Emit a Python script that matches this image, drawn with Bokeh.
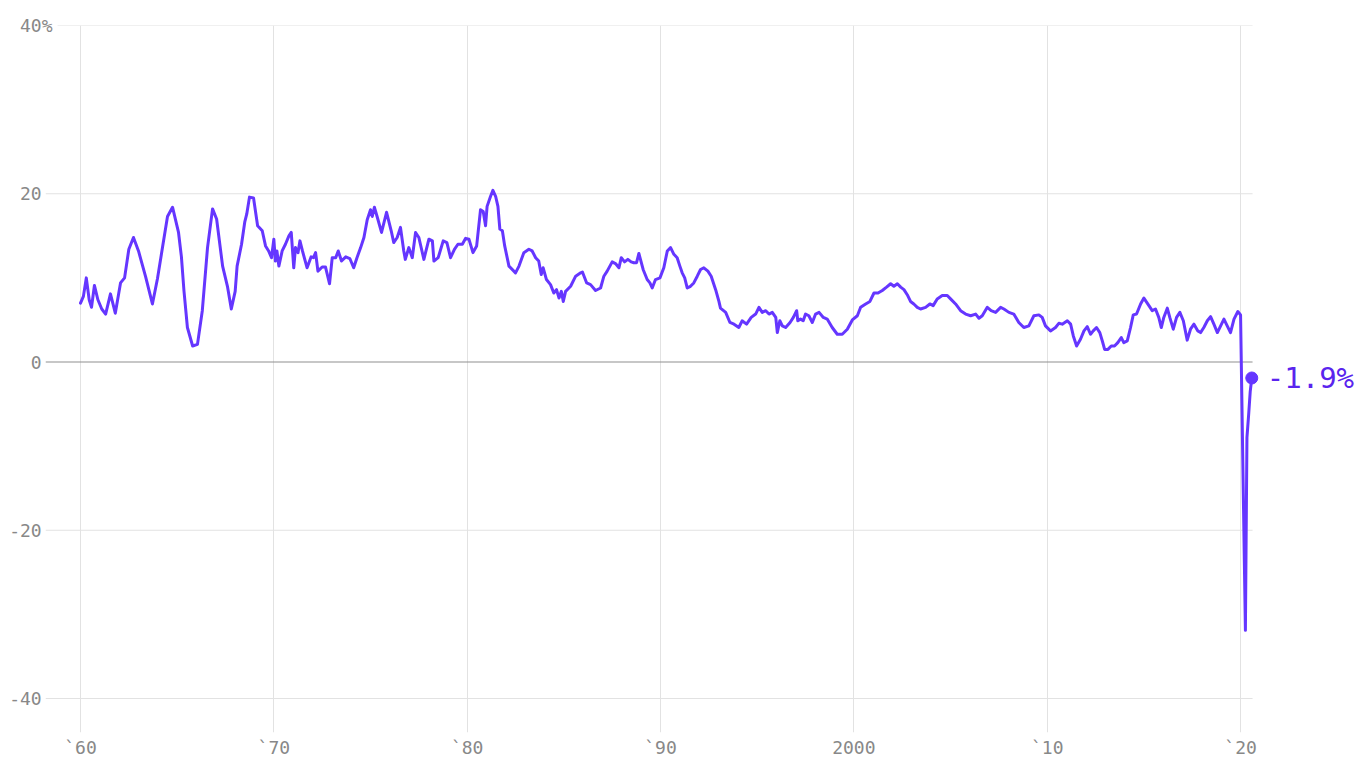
from bokeh.plotting import figure
from bokeh.models import Range1d, FixedTicker, Label
from bokeh.embed import file_html
from bokeh.resources import INLINE

# ---- data (decimal year, percent) ----
years = [
    1960.00, 1960.15, 1960.30, 1960.45, 1960.57, 1960.72, 1960.90, 1961.10, 1961.30, 1961.55,
    1961.80, 1962.07, 1962.28, 1962.50, 1962.74, 1963.00, 1963.36, 1963.72, 1963.98, 1964.24,
    1964.50, 1964.76, 1965.07, 1965.22, 1965.35, 1965.53, 1965.80, 1966.05, 1966.30, 1966.57,
    1966.83, 1967.04, 1967.35, 1967.60, 1967.80, 1968.00, 1968.10, 1968.33, 1968.50, 1968.60,
    1968.74, 1968.95, 1969.16, 1969.40, 1969.57, 1969.73, 1969.88, 1970.00, 1970.08, 1970.16,
    1970.26, 1970.43, 1970.60, 1970.78, 1970.90, 1971.03, 1971.12, 1971.25, 1971.35, 1971.48,
    1971.72, 1971.93, 1972.05, 1972.16, 1972.28, 1972.50, 1972.67, 1972.88, 1973.02, 1973.20,
    1973.33, 1973.50, 1973.72, 1973.93, 1974.13, 1974.30, 1974.49, 1974.66, 1974.83, 1975.00,
    1975.09, 1975.20, 1975.34, 1975.57, 1975.83, 1976.07, 1976.20, 1976.38, 1976.55, 1976.72,
    1976.80, 1976.98, 1977.16, 1977.33, 1977.50, 1977.76, 1978.02, 1978.20, 1978.28, 1978.50,
    1978.76, 1978.95, 1979.14, 1979.34, 1979.52, 1979.75, 1979.92, 1980.09, 1980.30, 1980.49,
    1980.69, 1980.83, 1980.95, 1981.03, 1981.21, 1981.33, 1981.47, 1981.59, 1981.69, 1981.82,
    1981.94, 1982.16, 1982.50, 1982.68, 1982.93, 1983.19, 1983.36, 1983.54, 1983.70, 1983.83,
    1983.93, 1984.10, 1984.31, 1984.48, 1984.62, 1984.75, 1984.87, 1984.97, 1985.09, 1985.35,
    1985.61, 1985.87, 1985.96, 1986.18, 1986.38, 1986.64, 1986.90, 1987.07, 1987.24, 1987.50,
    1987.67, 1987.85, 1987.97, 1988.14, 1988.31, 1988.48, 1988.62, 1988.76, 1988.88, 1989.10,
    1989.31, 1989.45, 1989.57, 1989.74, 1989.97, 1990.17, 1990.35, 1990.52, 1990.69, 1990.86,
    1991.00, 1991.12, 1991.25, 1991.38, 1991.55, 1991.72, 1991.90, 1992.07, 1992.24, 1992.45,
    1992.62, 1992.85, 1993.02, 1993.10, 1993.37, 1993.59, 1993.80, 1994.05, 1994.22, 1994.45,
    1994.69, 1994.92, 1995.09, 1995.26, 1995.44, 1995.61, 1995.78, 1995.96, 1996.04, 1996.17,
    1996.30, 1996.47, 1996.70, 1996.87, 1997.04, 1997.10, 1997.24, 1997.38, 1997.50, 1997.67,
    1997.85, 1998.02, 1998.20, 1998.42, 1998.62, 1998.88, 1999.14, 1999.40, 1999.66, 1999.92,
    2000.18, 2000.35, 2000.61, 2000.83, 2001.04, 2001.25, 2001.47, 2001.69, 2001.90, 2002.07,
    2002.25, 2002.42, 2002.59, 2002.76, 2002.93, 2003.10, 2003.28, 2003.45, 2003.71, 2003.93,
    2004.10, 2004.31, 2004.57, 2004.83, 2005.00, 2005.26, 2005.52, 2005.78, 2006.04, 2006.30,
    2006.47, 2006.64, 2006.90, 2007.10, 2007.33, 2007.59, 2007.76, 2008.02, 2008.27, 2008.53,
    2008.79, 2009.05, 2009.31, 2009.57, 2009.74, 2009.91, 2010.17, 2010.43, 2010.60, 2010.78,
    2011.04, 2011.21, 2011.35, 2011.52, 2011.72, 2011.90, 2012.07, 2012.24, 2012.38, 2012.55,
    2012.72, 2012.85, 2012.97, 2013.14, 2013.31, 2013.48, 2013.65, 2013.83, 2013.96, 2014.14,
    2014.31, 2014.45, 2014.62, 2014.83, 2015.00, 2015.26, 2015.43, 2015.60, 2015.77, 2015.90,
    2016.03, 2016.21, 2016.34, 2016.52, 2016.69, 2016.86, 2017.04, 2017.24, 2017.41, 2017.59,
    2017.79, 2017.93, 2018.10, 2018.28, 2018.45, 2018.62, 2018.80, 2018.97, 2019.14, 2019.31,
    2019.48, 2019.66, 2019.86, 2020.00, 2020.25, 2020.33, 2020.42, 2020.50, 2020.58,
]
values = [
    7.0, 7.8, 10.0, 7.4, 6.5, 9.1, 7.4, 6.3, 5.7, 8.1,
    5.8, 9.4, 10.0, 13.4, 14.8, 13.2, 10.2, 6.9, 9.9, 13.6,
    17.3, 18.4, 15.4, 12.5, 8.5, 4.1, 1.9, 2.1, 6.1, 13.6,
    18.2, 17.0, 11.4, 9.0, 6.3, 8.4, 11.4, 14.0, 16.7, 17.6,
    19.6, 19.5, 16.2, 15.6, 13.8, 13.2, 12.4, 14.6, 12.0, 13.2,
    11.4, 13.2, 14.0, 15.0, 15.4, 11.2, 13.6, 13.0, 14.4, 13.2,
    11.2, 12.5, 12.4, 13.0, 10.8, 11.3, 11.3, 9.3, 12.4, 12.4,
    13.2, 12.0, 12.5, 12.3, 11.2, 12.4, 13.6, 14.8, 16.9, 18.1,
    17.3, 18.4, 17.3, 15.4, 17.8, 15.6, 14.2, 14.8, 16.0, 13.2,
    12.2, 13.6, 12.4, 15.4, 14.8, 12.2, 14.6, 14.4, 12.0, 12.4,
    14.4, 14.2, 12.4, 13.4, 14.0, 14.0, 14.7, 14.6, 13.0, 13.8,
    18.1, 17.9, 16.2, 18.5, 19.7, 20.4, 19.7, 18.5, 15.8, 15.6,
    13.8, 11.4, 10.6, 11.4, 13.0, 13.4, 13.2, 12.4, 12.0, 10.4,
    11.2, 9.8, 9.2, 8.2, 8.6, 7.6, 8.4, 7.2, 8.4, 9.0,
    10.2, 10.6, 10.7, 9.4, 9.2, 8.5, 8.8, 10.2, 10.8, 11.9,
    11.7, 11.2, 12.4, 11.9, 12.2, 11.9, 11.8, 11.8, 12.9, 11.0,
    9.8, 9.4, 8.8, 9.8, 10.0, 11.2, 13.2, 13.6, 12.8, 12.4,
    11.4, 10.6, 10.0, 8.8, 9.0, 9.4, 10.2, 11.0, 11.2, 10.8,
    10.2, 8.6, 7.2, 6.4, 5.9, 4.7, 4.5, 4.1, 4.9, 4.5,
    5.3, 5.7, 6.5, 5.9, 6.1, 5.7, 5.9, 5.3, 3.5, 4.9,
    4.3, 4.1, 4.7, 5.3, 6.1, 4.9, 5.1, 4.9, 5.7, 5.5,
    4.7, 5.7, 5.9, 5.3, 5.1, 4.1, 3.3, 3.3, 3.9, 5.0,
    5.5, 6.5, 6.9, 7.2, 8.2, 8.2, 8.5, 8.9, 9.3, 9.0,
    9.3, 8.9, 8.6, 8.0, 7.2, 6.9, 6.5, 6.3, 6.5, 6.9,
    6.7, 7.5, 7.9, 7.9, 7.5, 6.9, 6.1, 5.7, 5.5, 5.7,
    5.2, 5.5, 6.5, 6.1, 5.9, 6.5, 6.3, 5.9, 5.7, 4.7,
    4.1, 4.3, 5.5, 5.6, 5.3, 4.3, 3.7, 4.1, 4.6, 4.5,
    4.9, 4.5, 3.1, 1.9, 2.7, 3.7, 4.2, 3.3, 3.7, 4.1,
    3.5, 2.5, 1.5, 1.5, 1.9, 1.9, 2.3, 2.9, 2.3, 2.5,
    4.1, 5.6, 5.7, 6.9, 7.6, 6.7, 6.1, 6.3, 5.3, 4.1,
    5.3, 6.4, 5.3, 3.9, 5.3, 5.9, 4.9, 2.6, 3.9, 4.5,
    3.7, 3.5, 4.1, 4.9, 5.4, 4.5, 3.5, 4.3, 5.1, 4.3,
    3.5, 5.1, 6.0, 5.6, -31.9, -9.0, -6.2, -3.5, -1.9,
]

x_ticks = [1960, 1970, 1980, 1990, 2000, 2010, 2020]
x_tick_labels = ["`60", "`70", "`80", "`90", "2000", "`10", "`20"]
y_ticks = [-40, -20, 0, 20, 40]
# non-breaking space keeps the numbers aligned, with "%" hanging after the top one
y_tick_labels = ["-40\u00a0", "-20\u00a0", "0\u00a0", "20\u00a0", "40%"]

# ---- styles ----
LINE_COLOR = "#6536ff"
LABEL_COLOR = "#5a24ee"
TEXT_GRAY = "#888888"
GRID_COLOR = "#e2e2e2"
ZERO_COLOR = "#8f8f8f"
FONT = "DejaVu Sans Mono"

X_START, X_END = 1958.19, 2026.41
GRID_X_END = 2020.62
TOP_GRID_X_START = 1958.81
Y_START, Y_END = -44.04, 40

p = figure(
    frame_width=1319, frame_height=707,
    x_range=Range1d(X_START, X_END), y_range=Range1d(Y_START, Y_END),
    output_backend="svg", toolbar_location=None,
    min_border_left=45, min_border_right=0, min_border_top=25, min_border_bottom=28,
    background_fill_color="white", border_fill_color="white",
)
p.outline_line_color = None

# axes
p.xaxis.ticker = FixedTicker(ticks=x_ticks)
p.xaxis.major_label_overrides = {t: l for t, l in zip(x_ticks, x_tick_labels)}
p.yaxis.ticker = FixedTicker(ticks=y_ticks)
p.yaxis.major_label_overrides = {t: l for t, l in zip(y_ticks, y_tick_labels)}
for ax in (p.xaxis[0], p.yaxis[0]):
    ax.axis_line_color = None
    ax.major_tick_line_color = None
    ax.minor_tick_line_color = None
    ax.major_tick_out = 0
    ax.major_tick_in = 0
    ax.major_label_text_font = FONT
    ax.major_label_text_font_size = "18px"
    ax.major_label_text_color = TEXT_GRAY
p.xaxis.major_label_standoff = 4
p.yaxis.major_label_standoff = -7

# grids: vertical lines through the year ticks, horizontal lines bounded
p.xgrid.ticker = FixedTicker(ticks=x_ticks)
p.xgrid.grid_line_color = GRID_COLOR
p.xgrid.grid_line_width = 1
p.ygrid.grid_line_color = None

side_lines = [t for t in y_ticks if t not in (0, 40)]
p.segment(x0=[X_START] * len(side_lines), x1=[GRID_X_END] * len(side_lines),
          y0=side_lines, y1=side_lines, line_color=GRID_COLOR, line_width=1)
p.segment(x0=[TOP_GRID_X_START], x1=[GRID_X_END], y0=[40], y1=[40],
          line_color=GRID_COLOR, line_width=1)
p.segment(x0=[X_START], x1=[GRID_X_END], y0=[0], y1=[0],
          line_color=ZERO_COLOR, line_width=1)

# data line
p.line(years, values, line_color=LINE_COLOR, line_width=3,
       line_join="round", line_cap="round")

# last point marker and label
p.scatter([years[-1]], [values[-1]], size=12, fill_color=LINE_COLOR,
          line_color=LINE_COLOR)
p.add_layout(Label(x=years[-1], y=values[-1], text=f"{values[-1]}%",
                   x_offset=15, text_align="left", text_baseline="middle",
                   text_font=FONT, text_font_size="29px", text_color=LABEL_COLOR))

open("out.html", "w").write(file_html(p, INLINE))
